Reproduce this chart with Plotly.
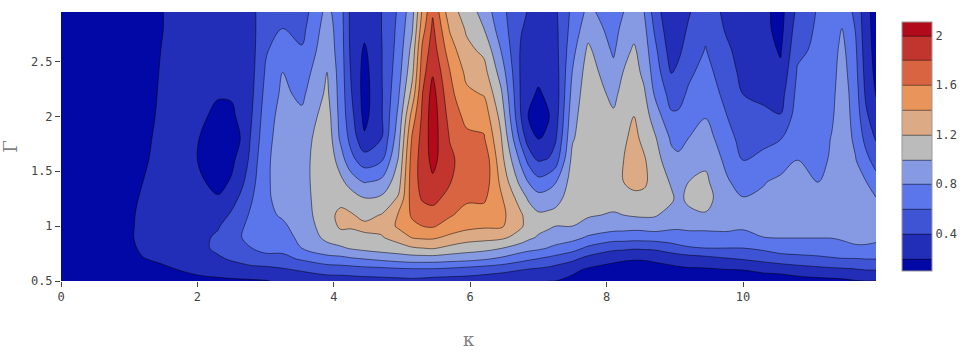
import numpy as np
import plotly.graph_objects as go

kappa = [0, 1.0, 1.2, 1.5, 2.0, 2.3, 2.5, 2.65, 2.8, 3.0, 3.25, 3.53, 3.9, 4.1, 4.25, 4.45, 4.7, 4.95, 5.15, 5.3, 5.45,
         5.7, 5.95, 6.2, 6.45, 6.75, 6.85, 7.0, 7.15, 7.25, 7.5, 7.73, 8.1, 8.25, 8.4, 8.55, 8.7, 8.95, 9.05, 9.2, 9.45,
         9.75, 10.0, 10.3, 10.55, 10.8, 11.1, 11.3, 11.45, 11.65, 11.8, 11.95]
gamma = [0.5, 0.6, 0.7, 0.8, 0.9, 1.0, 1.1, 1.25, 1.4, 1.6, 1.8, 2.0, 2.2, 2.4, 2.6, 2.8, 2.95]

z_columns = [
    [.104,.104,.11,.11,.11,.11,.11,.11,.11,.11,.11,.11,.11,.11,.11,.11,.11],
    [.11,.11,.12,.15,.17,.17,.17,.16,.15,.14,.13,.12,.12,.12,.12,.12,.12],
    [.11,.11,.19,.24,.26,.25,.24,.22,.2,.18,.16,.14,.13,.13,.13,.12,.12],
    [.11,.16,.24,.28,.3,.29,.28,.26,.25,.25,.25,.24,.23,.22,.21,.2,.2],
    [.14,.25,.31,.34,.34,.32,.29,.24,.22,.2,.205,.23,.25,.27,.28,.29,.29],
    [.16,.28,.37,.44,.43,.38,.3,.21,.17,.15,.15,.17,.21,.25,.28,.3,.32],
    [.17,.3,.42,.52,.55,.5,.43,.32,.21,.18,.17,.18,.21,.26,.3,.33,.35],
    [.175,.31,.46,.56,.6,.58,.53,.45,.36,.24,.205,.23,.27,.3,.32,.33,.34],
    [.18,.33,.5,.6,.66,.66,.64,.59,.54,.49,.44,.4,.37,.35,.34,.34,.35],
    [.19,.34,.52,.67,.72,.74,.76,.77,.77,.76,.73,.7,.66,.62,.58,.55,.53],
    [.23,.37,.55,.65,.71,.77,.82,.86,.88,.9,.9,.88,.84,.8,.7,.6,.56],
    [.25,.42,.62,.8,.86,.88,.9,.91,.92,.92,.9,.84,.76,.69,.62,.54,.5],
    [.3,.48,.72,.94,1.05,1.1,1.13,1.15,1.16,1.16,1.14,1.1,1.04,1.0,.93,.9,.86],
    [.3,.49,.74,.97,1.13,1.23,1.25,1.14,1.05,.9,.76,.73,.72,.71,.7,.69,.68],
    [.31,.5,.77,1.02,1.14,1.22,1.22,1.1,.92,.66,.54,.47,.42,.39,.36,.35,.35],
    [.32,.52,.8,1.06,1.17,1.24,1.15,1.01,.79,.5,.23,.14,.12,.13,.17,.26,.3],
    [.33,.53,.84,1.1,1.19,1.24,1.21,1.04,.85,.58,.4,.38,.38,.39,.39,.4,.4],
    [.34,.55,.88,1.13,1.28,1.44,1.42,1.23,1.12,1.02,.93,.85,.78,.72,.68,.65,.63],
    [.35,.56,.9,1.18,1.42,1.55,1.63,1.7,1.72,1.7,1.63,1.49,1.28,1.15,1.07,.98,.93],
    [.34,.56,.9,1.2,1.44,1.6,1.7,1.82,1.86,1.88,1.87,1.84,1.8,1.72,1.65,1.52,1.44],
    [.32,.56,.9,1.22,1.44,1.62,1.73,1.85,1.96,2.06,2.1,2.11,2.08,1.98,1.9,1.84,1.78],
    [.31,.54,.88,1.15,1.36,1.52,1.62,1.74,1.81,1.84,1.79,1.73,1.66,1.61,1.5,1.38,1.28],
    [.31,.51,.86,1.1,1.29,1.46,1.53,1.63,1.69,1.71,1.65,1.54,1.44,1.35,1.25,1.17,1.12],
    [.29,.48,.82,1.07,1.27,1.43,1.52,1.63,1.72,1.75,1.62,1.52,1.39,1.27,1.16,1.0,.92],
    [.27,.45,.76,1.01,1.25,1.43,1.46,1.43,1.36,1.28,1.22,1.14,1.04,.92,.8,.7,.66],
    [.24,.4,.66,.9,1.12,1.22,1.22,1.1,.93,.74,.52,.38,.36,.36,.37,.41,.44],
    [.23,.38,.63,.87,1.05,1.14,1.12,.98,.8,.55,.3,.2,.24,.3,.34,.36,.39],
    [.22,.36,.59,.84,.98,1.06,1.03,.88,.67,.38,.19,.15,.18,.24,.3,.32,.33],
    [.2,.34,.55,.79,.93,1.03,1.04,.9,.72,.42,.23,.19,.23,.28,.32,.34,.35],
    [.2,.31,.52,.76,.9,1.0,1.05,.94,.79,.5,.37,.3,.28,.3,.33,.35,.37],
    [.15,.24,.44,.68,.87,1.0,1.06,1.09,1.09,1.06,.98,.93,.87,.81,.74,.68,.65],
    [.12,.17,.33,.56,.78,.93,1.02,1.07,1.09,1.11,1.13,1.14,1.13,1.1,1.04,.92,.85],
    [.11,.13,.24,.45,.7,.89,.98,1.08,1.12,1.13,1.1,1.03,.95,.86,.77,.72,.68],
    [.11,.12,.22,.44,.7,.88,1.0,1.1,1.2,1.2,1.17,1.13,1.07,1.01,.93,.86,.8],
    [.11,.12,.21,.42,.69,.87,1.02,1.15,1.25,1.28,1.25,1.2,1.14,1.08,1.03,.93,.87],
    [.11,.13,.21,.43,.69,.88,1.03,1.15,1.23,1.22,1.15,1.09,1.03,.95,.9,.85,.8],
    [.11,.15,.22,.44,.7,.9,1.02,1.1,1.13,1.1,1.03,.92,.79,.72,.66,.58,.52],
    [.11,.16,.25,.52,.7,.85,.93,1.03,.98,.86,.77,.63,.52,.39,.3,.24,.2],
    [.115,.165,.27,.55,.71,.84,.9,.95,.93,.84,.74,.63,.53,.44,.36,.31,.28],
    [.12,.17,.3,.58,.73,.85,.95,1.04,1.0,.89,.8,.72,.63,.56,.48,.42,.38],
    [.12,.17,.33,.6,.72,.86,.98,1.08,1.04,.96,.89,.79,.72,.67,.61,.56,.53],
    [.12,.19,.38,.6,.75,.85,.88,.87,.83,.76,.68,.61,.55,.49,.44,.38,.35],
    [.12,.2,.41,.6,.74,.83,.84,.81,.72,.6,.53,.46,.4,.35,.32,.3,.29],
    [.12,.23,.46,.64,.8,.84,.86,.83,.79,.65,.55,.44,.36,.32,.28,.25,.25],
    [.11,.25,.51,.69,.81,.86,.89,.88,.84,.72,.59,.41,.32,.24,.18,.14,.13],
    [.13,.29,.54,.69,.81,.86,.88,.89,.87,.8,.74,.7,.66,.62,.56,.5,.45],
    [.14,.33,.56,.7,.81,.86,.88,.86,.8,.73,.7,.68,.66,.65,.64,.63,.62],
    [.15,.35,.58,.71,.81,.85,.86,.86,.85,.83,.81,.77,.74,.72,.7,.69,.68],
    [.16,.36,.59,.73,.83,.87,.89,.9,.91,.91,.91,.92,.92,.89,.86,.8,.72],
    [.19,.38,.59,.78,.84,.88,.9,.89,.85,.81,.76,.72,.69,.66,.63,.59,.56],
    [.2,.4,.6,.78,.84,.87,.87,.85,.81,.66,.54,.44,.37,.33,.3,.28,.27],
    [.2,.4,.6,.76,.84,.85,.84,.81,.68,.52,.38,.27,.19,.15,.13,.12,.11],
]

band_colors = ["#0208a6", "#222db8", "#3f54d5", "#5b75ea", "#8699e3", "#bbbbbb",
               "#dcaa85", "#e8945a", "#d86441", "#c2352e", "#b00a1b"]
level_start, level_end, level_size = 0.2, 2.0, 0.2
x_title, y_title = "κ", "Γ"

z = np.array(z_columns).T
colorscale = [[i / (len(band_colors) - 1), c] for i, c in enumerate(band_colors)]
tick_font = dict(family="DejaVu Sans Mono", size=12, color="#444")
title_font = dict(family="DejaVu Serif", size=18, color="#7f7f7f")

fig = go.Figure(go.Contour(
    x=kappa, y=gamma, z=z,
    colorscale=colorscale, zmin=0.1, zmax=2.11,
    contours=dict(start=level_start, end=level_end, size=level_size),
    line=dict(width=0.5),
    colorbar=dict(dtick=0.4, tick0=0, outlinecolor="#999", tickfont=tick_font, x=1.031, xpad=1),
))
fig.update_layout(
    template="none", width=969, height=354,
    margin=dict(l=60.5, r=93, t=12, b=72.5),
    font=tick_font,
    xaxis=dict(title=dict(text=x_title, font=title_font, standoff=29), tickfont=tick_font,
               range=[0, 11.95], dtick=2, tick0=0, ticks="outside", showgrid=False, zeroline=True, zerolinecolor="#444", showline=False),
    yaxis=dict(title=dict(text=y_title, font=title_font, standoff=14), tickfont=tick_font,
               range=[0.5, 2.95], dtick=0.5, tick0=0.5, ticks="outside", showgrid=False, zeroline=False, showline=False),
)
fig.write_html("out.html", post_script="document.body.style.margin='0';", config=dict(displayModeBar=False))
